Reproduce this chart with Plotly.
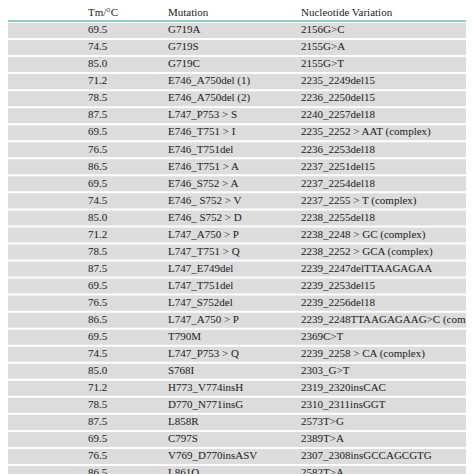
import plotly.graph_objects as go

tm = ["69.5", "74.5", "85.0", "71.2", "78.5", "87.5", "69.5", "76.5", "86.5",
      "69.5", "74.5", "85.0", "71.2", "78.5", "87.5", "69.5", "76.5", "86.5",
      "69.5", "74.5", "85.0", "71.2", "78.5", "87.5", "69.5", "76.5", "86.5"]
mutation = ["G719A", "G719S", "G719C", "E746_A750del (1)", "E746_A750del (2)",
            "L747_P753 > S", "E746_T751 > I", "E746_T751del", "E746_T751 > A",
            "E746_S752 > A", "E746_ S752 > V", "E746_ S752 > D", "L747_A750 > P",
            "L747_T751 > Q", "L747_E749del", "L747_T751del", "L747_S752del",
            "L747_A750 > P", "T790M", "L747_P753 > Q", "S768I", "H773_V774insH",
            "D770_N771insG", "L858R", "C797S", "V769_D770insASV", "L861Q"]
nucleotide = ["2156G>C", "2155G>A", "2155G>T", "2235_2249del15", "2236_2250del15",
              "2240_2257del18", "2235_2252 > AAT (complex)", "2236_2253del18",
              "2237_2251del15", "2237_2254del18", "2237_2255 > T (complex)",
              "2238_2255del18", "2238_2248 > GC (complex)", "2238_2252 > GCA (complex)",
              "2239_2247delTTAAGAGAA", "2239_2253del15", "2239_2256del18",
              "2239_2248TTAAGAGAAG>C (complex)", "2369C>T", "2239_2258 > CA (complex)",
              "2303_G>T", "2319_2320insCAC", "2310_2311insGGT", "2573T>G", "2389T>A",
              "2307_2308insGCCAGCGTG", "2582T>A"]
headers = ["hannel", "Tm/°C", "Mutation", "Nucleotide Variation"]

W = 474
top = 14
rh = (W - top) / len(tm)
ys = [W - top - rh * (i + 0.5) for i in range(len(tm))]
font = dict(family="Liberation Serif", size=11, color="#1a1a1a")

fig = go.Figure()
fig.add_trace(go.Bar(y=ys, x=[W] * len(ys), base=0, orientation="h", width=rh - 2,
                     marker=dict(color="#dcdcdc", line_width=0), hoverinfo="skip"))
for col_x, vals in [(80, tm), (160, mutation), (293, nucleotide)]:
    fig.add_trace(go.Scatter(x=[col_x] * len(vals), y=ys, text=vals, mode="text",
                             textposition="middle right", textfont=font, cliponaxis=False))
fig.add_trace(go.Scatter(x=[-2, 80, 160, 293], y=[W - 5] * 4, text=headers, mode="text",
                         textposition="middle right", textfont=font))
fig.add_shape(type="line", x0=0, x1=W, y0=W - top + 1, y1=W - top + 1,
              line=dict(color="#5fbfbd", width=1.5))
fig.update_layout(width=W, height=W, margin=dict(l=0, r=0, t=0, b=0),
                  plot_bgcolor="white", paper_bgcolor="white", showlegend=False,
                  xaxis=dict(range=[0, W], visible=False),
                  yaxis=dict(range=[0, W], visible=False))
fig.write_html("out.html")
